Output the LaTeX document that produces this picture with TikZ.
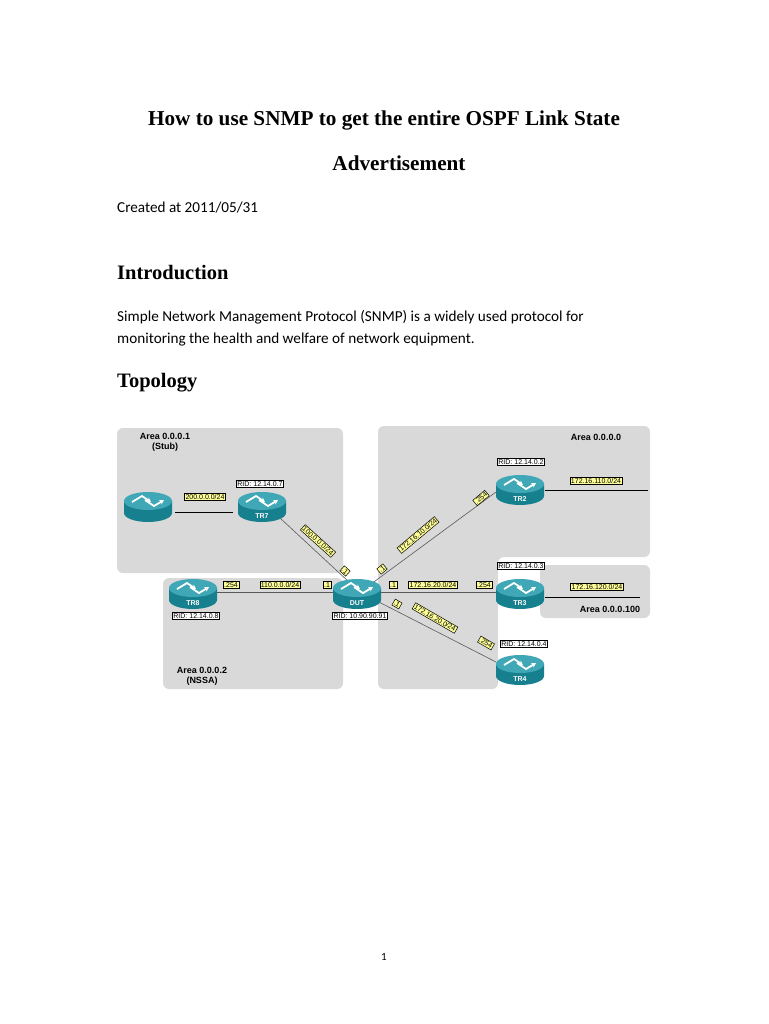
\documentclass[tikz,border=0pt]{standalone}
\usepackage{fontspec}
\setmainfont{Carlito}
\newfontfamily\titlefont{Liberation Serif}
\newfontfamily\arial{Liberation Sans}
\usetikzlibrary{arrows.meta}
\definecolor{areagray}{HTML}{D9D9D9}
\definecolor{rtop}{HTML}{3FA7B5}
\definecolor{rbody}{HTML}{16808F}
\definecolor{lbl}{HTML}{FFFF99}
\tikzset{
 title/.style={font=\titlefont\bfseries\fontsize{21.2}{24}\selectfont},
 body/.style={font=\fontsize{15.2}{17}\selectfont, anchor=west, inner sep=0},
 heading/.style={font=\titlefont\bfseries\fontsize{20.5}{24}\selectfont, anchor=west, inner sep=0},
 area/.style={fill=areagray, draw=none, rounded corners=6pt},
 arealbl/.style={font=\arial\bfseries\fontsize{9}{10}\selectfont, align=center, inner sep=0},
 ylab/.style={draw=black, fill=lbl, font=\arial\fontsize{7}{7}\selectfont, inner sep=1pt, line width=0.5pt},
 rid/.style={draw=black, fill=white, font=\arial\fontsize{7}{7}\selectfont, inner sep=1pt, line width=0.5pt},
 link/.style={draw=gray!70!black, line width=0.6pt},
 blink/.style={draw=black, line width=0.8pt},
 router/.pic={
  \fill[rbody] (-24,-4) -- (-24,8) arc[start angle=180,end angle=0,x radius=24,y radius=9] -- (24,-4) -- cycle;
  \fill[rtop] (0,-4) ellipse[x radius=24,y radius=9];
  \draw[white, line width=1.8pt, -{Stealth[length=4.5pt,width=5pt]}] (-16,-3) -- (-6,-9) -- (3,-3);
  \draw[white, line width=1.8pt, -{Stealth[length=4.5pt,width=5pt]}] (-3,-5) -- (6,1) -- (16,-5);
  \node[white, font=\arial\bfseries\fontsize{7}{8}\selectfont] at (0,11) {\tikzpictext};
 }
}
\begin{document}
\begin{tikzpicture}[x=1pt,y=-1pt]
\useasboundingbox (0,0) rectangle (768,1024);
\fill[white] (0,0) rectangle (768,1024);
% texts
\node[title] (t1) at (384,120) {How to use SNMP to get the entire OSPF Link State};
\node[title] (t2) at (399,163) {Advertisement};
\node[body] (cr) at (117,208) {Created at 2011/05/31};
\node[heading] (intro) at (117,273) {Introduction};
\node[body] (p1) at (117,317) {Simple Network Management Protocol (SNMP) is a widely used protocol for};
\node[body] (p2) at (117,340) {monitoring the health and welfare of network equipment.};
\node[heading] (topo) at (117,383) {Topology};
\node[font=\fontsize{11}{12}\selectfont] (pg) at (384,957) {1};
% areas
\path[area] (117,428) rectangle (343,573);
\path[area] (163,578) rectangle (343,689);
\path[area] (378,426) -- (650,426) -- (650,557) -- (498,557) -- (498,689) -- (378,689) -- cycle;
\path[area] (540,565) rectangle (650,618);
\node[arealbl] (a1) at (165,442) {Area 0.0.0.1\\(Stub)};
\node[arealbl] (a0) at (596,437) {Area 0.0.0.0};
\node[arealbl] (a100) at (610,609) {Area 0.0.0.100};
\node[arealbl] (a2) at (202,676) {Area 0.0.0.2\\(NSSA)};
% router anchors
\coordinate (R0) at (148,505);
\coordinate (TR7) at (262,505);
\coordinate (TR8) at (193,592);
\coordinate (DUT) at (357,592);
\coordinate (TR2) at (520,488);
\coordinate (TR3) at (520,592);
\coordinate (TR4) at (520,668);
\coordinate (n1a) at (175,512); \coordinate (n1b) at (233,512);
\coordinate (n2a) at (545,490); \coordinate (n2b) at (648,490);
\coordinate (n3a) at (545,597); \coordinate (n3b) at (640,597);
% links
\draw[blink] (n1a) -- (n1b);
\draw[blink] (n2a) -- (n2b);
\draw[blink] (n3a) -- (n3b);
\draw[link] ([shift={(18,13)}]TR7) -- ([shift={(-8,-10)}]DUT);
\draw[link] ([shift={(24,0)}]TR8) -- ([shift={(-24,0)}]DUT);
\draw[link] ([shift={(14,-8)}]DUT) -- ([shift={(-24,4)}]TR2);
\draw[link] ([shift={(24,0)}]DUT) -- ([shift={(-24,0)}]TR3);
\draw[link] ([shift={(18,8)}]DUT) -- ([shift={(-24,-6)}]TR4);
% routers
\pic at (R0) {router};
\pic[pic text=TR7] at (TR7) {router};
\pic[pic text=TR8] at (TR8) {router};
\pic[pic text=DUT] at (DUT) {router};
\pic[pic text=TR2] at (TR2) {router};
\pic[pic text=TR3] at (TR3) {router};
\pic[pic text=TR4] at (TR4) {router};
% labels
\node[ylab] (l1) at (205,497) {200.0.0.0/24};
\node[ylab, rotate=-42] (l2) at (318,541) {100.0.0.0/24};
\node[ylab, rotate=-42] (l3) at (345,571) {.1};
\node[ylab] (l4) at (231,585) {.254};
\node[ylab] (l5) at (280,585) {110.0.0.0/24};
\node[ylab] (l6) at (327,585) {.1};
\node[ylab, rotate=40] (l7) at (382,569) {.1};
\node[ylab, rotate=40] (l8) at (418,535) {172.16.10.0/24};
\node[ylab, rotate=40] (l9) at (481,498) {.254};
\node[ylab] (l10) at (393,585) {.1};
\node[ylab] (l11) at (433,585) {172.16.20.0/24};
\node[ylab] (l12) at (484,585) {.254};
\node[ylab, rotate=-30] (l13) at (397,604) {.1};
\node[ylab, rotate=-30] (l14) at (435,618) {172.16.20.0/24};
\node[ylab, rotate=-30] (l15) at (486,643) {.254};
\node[ylab] (l16) at (596,481) {172.16.110.0/24};
\node[ylab] (l17) at (597,587) {172.16.120.0/24};
\node[rid] (r7) at (260,484) {RID: 12.14.0.7};
\node[rid] (r8) at (196,616) {RID: 12.14.0.8};
\node[rid] (rd) at (360,616) {RID: 10.90.90.91};
\node[rid] (r2) at (521,462) {RID: 12.14.0.2};
\node[rid] (r3) at (521,566) {RID: 12.14.0.3};
\node[rid] (r4) at (524,644) {RID: 12.14.0.4};
\end{tikzpicture}
\end{document}
